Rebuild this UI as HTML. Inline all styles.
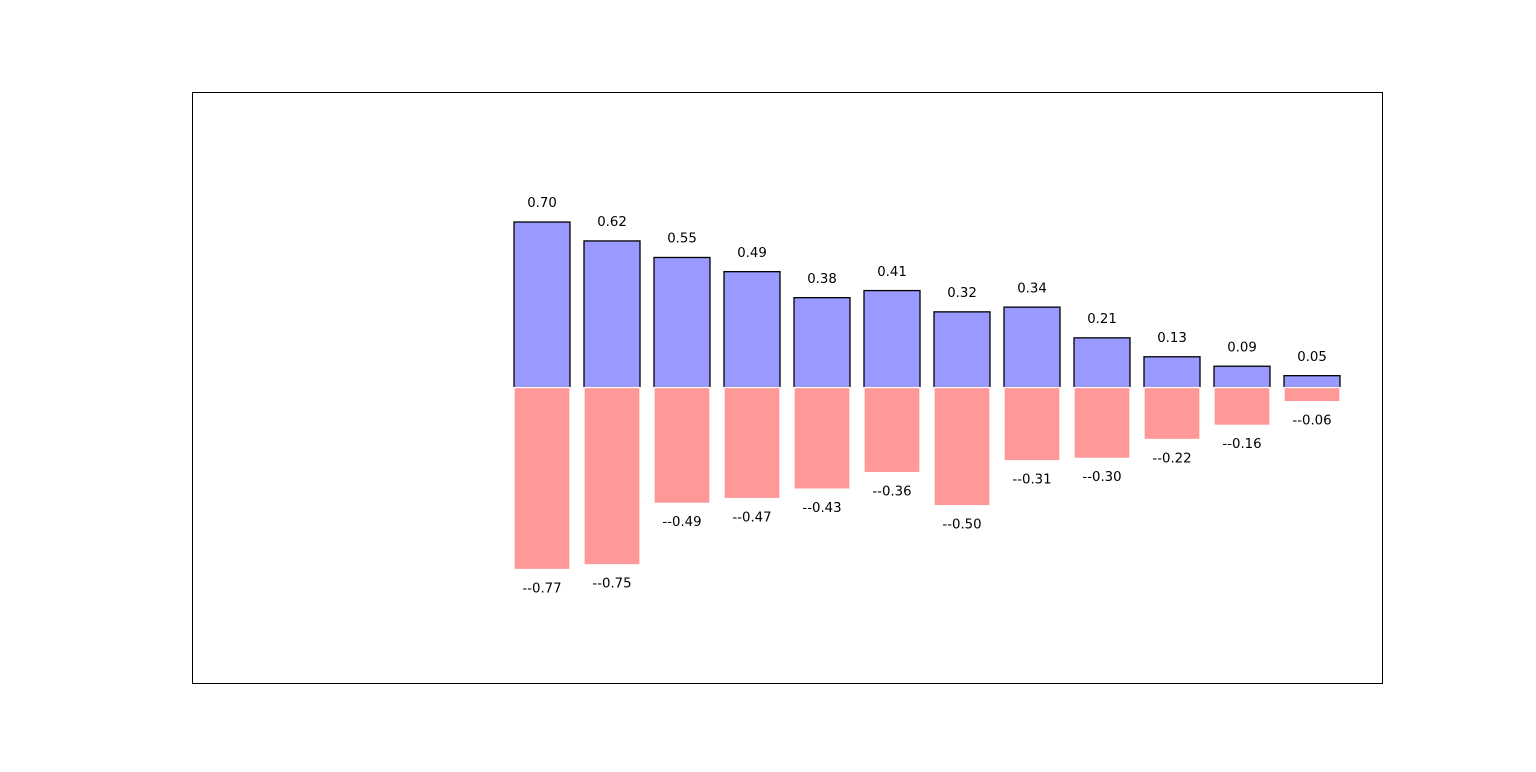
<!DOCTYPE html>
<html><head><meta charset="utf-8"><style>
html,body{margin:0;padding:0;background:#fff;}
svg text{font-family:"DejaVu Sans","Liberation Sans",sans-serif;font-size:13.3px;fill:#000;}
</style></head><body>
<svg id="chart" width="1536" height="767">
<rect x="0" y="0" width="1536" height="767" fill="#fff"/>
<g id="bars"></g>
<rect x="192.5" y="92.5" width="1190" height="591" fill="none" stroke="#000" stroke-width="1"/>
</svg>
<script>
const categories = [0,1,2,3,4,5,6,7,8,9,10,11];
const positiveValues = [0.70,0.62,0.55,0.49,0.38,0.41,0.32,0.34,0.21,0.13,0.09,0.05];
const negativeValues = [0.77,0.75,0.49,0.47,0.43,0.36,0.50,0.31,0.30,0.22,0.16,0.06];
const xDomain = [-5, 12];
const yDomain = [-1.25, 1.25];

const L=192, R=1382, T=92, B=683;
const xs = v => L + (v - xDomain[0]) / (xDomain[1]-xDomain[0]) * (R-L);
const ys = v => B - (v - yDomain[0]) / (yDomain[1]-yDomain[0]) * (B-T);
const NS="http://www.w3.org/2000/svg";
const g=document.getElementById('bars');
const bw=0.8;
categories.forEach((c,i)=>{
  const x0=xs(c-bw/2), x1=xs(c+bw/2);
  // positive
  let r=document.createElementNS(NS,'rect');
  
  
  r.setAttribute('x',x0);r.setAttribute('width',x1-x0);
  r.setAttribute('y',ys(positiveValues[i]));r.setAttribute('height',ys(0)-ys(positiveValues[i]));
  r.setAttribute('fill','#9999ff');r.setAttribute('stroke','#000');r.setAttribute('stroke-width','1.3');
  g.appendChild(r);
  // negative
  let n=document.createElementNS(NS,'rect');
  
  
  n.setAttribute('x',x0);n.setAttribute('width',x1-x0);
  n.setAttribute('y',ys(0));n.setAttribute('height',ys(-negativeValues[i])-ys(0));
  n.setAttribute('fill','#ff9999');n.setAttribute('stroke','#fff');n.setAttribute('stroke-width','1.3');
  g.appendChild(n);
  // labels
  let t=document.createElementNS(NS,'text');
  
  
  t.setAttribute('x',xs(c));t.setAttribute('y',ys(positiveValues[i]+0.05)-3);
  t.setAttribute('text-anchor','middle');
  t.textContent=positiveValues[i].toFixed(2);
  g.appendChild(t);
  let t2=document.createElementNS(NS,'text');
  
  
  t2.setAttribute('x',xs(c));t2.setAttribute('y',ys(-negativeValues[i]-0.05)+11);
  t2.setAttribute('text-anchor','middle');
  t2.textContent='-'+(-negativeValues[i]).toFixed(2);
  g.appendChild(t2);
});
</script>
</body></html>
